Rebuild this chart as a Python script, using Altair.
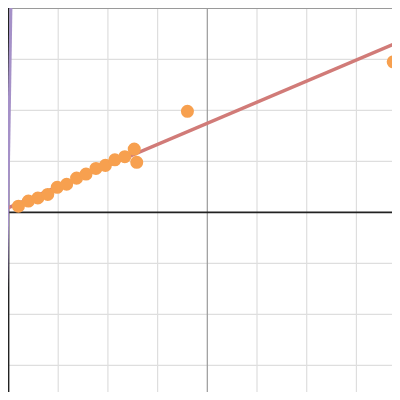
import altair as alt
import pandas as pd

# data (grid units)
pt_x = [0.20, 0.40, 0.59, 0.79, 0.98, 1.17, 1.37, 1.56, 1.76, 1.95, 2.14, 2.34, 2.53, 2.58, 3.60, 7.74]
pt_y = [0.12, 0.22, 0.28, 0.35, 0.49, 0.55, 0.67, 0.75, 0.86, 0.92, 1.03, 1.09, 1.24, 0.98, 1.98, 2.95]

red_slope, red_icpt = 0.414, 0.09
purple_slope, purple_icpt = 62.0, 1.0

x_dom = [-0.01, 7.716]
y_dom = [-3.524, 4.006]
minor_x = [1, 2, 3, 5, 6, 7]
minor_y = [-3, -2, -1, 1, 2, 3]
major_x = [4]
major_y = [4]

pts = pd.DataFrame({"x": pt_x, "y": pt_y})
red = pd.DataFrame({"x": [x_dom[0] - 1, x_dom[1] + 1]})
red["y"] = red_slope * red["x"] + red_icpt
purple = pd.DataFrame({"y": [y_dom[0] - 1, y_dom[1] + 1]})
purple["x"] = (purple["y"] - purple_icpt) / purple_slope

xs = alt.Scale(domain=x_dom, nice=False, zero=False)
ys = alt.Scale(domain=y_dom, nice=False, zero=False)
noax = None

def vrules(vals, color, w):
    return alt.Chart(pd.DataFrame({"v": vals})).mark_rule(color=color, strokeWidth=w).encode(
        x=alt.X("v:Q", scale=xs, axis=noax))

def hrules(vals, color, w):
    return alt.Chart(pd.DataFrame({"v": vals})).mark_rule(color=color, strokeWidth=w).encode(
        y=alt.Y("v:Q", scale=ys, axis=noax))

layers = [
    vrules(minor_x, "#dedede", 1.2),
    hrules(minor_y, "#dedede", 1.2),
    vrules(major_x, "#9a9a9a", 1.2),
    hrules(major_y, "#9a9a9a", 1.2),
    vrules([0], "#222222", 1.8),
    hrules([0], "#222222", 1.8),
    alt.Chart(red).mark_line(color="#d17b78", strokeWidth=3.5, clip=True).encode(
        x=alt.X("x:Q", scale=xs, axis=noax), y=alt.Y("y:Q", scale=ys, axis=noax)),
    alt.Chart(purple).mark_line(color="#a591c8", strokeWidth=3, clip=True).encode(
        x=alt.X("x:Q", scale=xs, axis=noax), y=alt.Y("y:Q", scale=ys, axis=noax), order="y:Q"),
    alt.Chart(pts).mark_circle(color="#f7a04f", opacity=1, size=170).encode(
        x=alt.X("x:Q", scale=xs, axis=noax), y=alt.Y("y:Q", scale=ys, axis=noax)),
]

chart = alt.layer(*layers).properties(
    width=384, height=384, padding=0, autosize=alt.AutoSizeParams(type="none")
).configure_view(stroke=None)

chart.save("out.html", embed_options={"renderer": "svg", "actions": False})
